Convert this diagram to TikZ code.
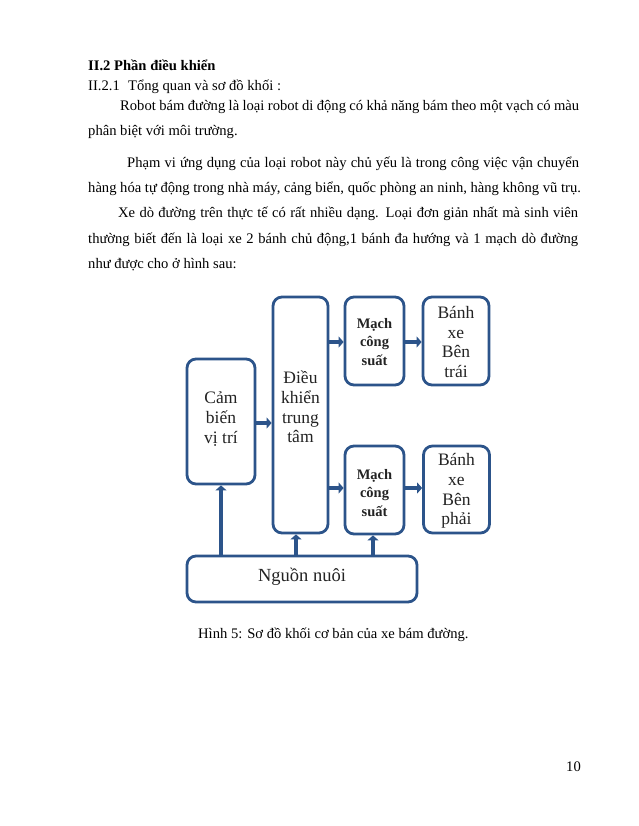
\documentclass[tikz,border=0pt]{standalone}
\usepackage{fontspec}
\setmainfont{Liberation Serif}
\usetikzlibrary{arrows.meta}
\definecolor{boxblue}{RGB}{44,84,138}
\definecolor{txt}{RGB}{35,35,35}
\begin{document}
\begin{tikzpicture}[x=1pt,y=-1pt,
  blk/.style={draw=boxblue, line width=2.8pt, rounded corners=9pt, fill=white, inner sep=0pt},
  lbl/.style={align=center, text=txt, font=\fontsize{17.5}{19.8}\selectfont, inner sep=0pt},
  lblb/.style={align=center, text=txt, font=\fontsize{14.5}{18.5}\selectfont\bfseries, inner sep=0pt},
  arr/.style={draw=boxblue, line width=4.8pt, -{Triangle[length=5pt,width=11pt]}},
  body/.style={anchor=base west, inner sep=0pt, font=\fontsize{14.6}{17}\selectfont},
]
\useasboundingbox[fill=white] (0,0) rectangle (638,826);

% text
\node[body] (h1) at (88,71) {\textbf{II.2 Phần điều khiển}};
\node[body] (h2a) at (88,91) {II.2.1};
\node[body] (h2b) at (128,91) {Tổng quan và sơ đồ khối :};
\node[body] (p1a) at (120,111) {\makebox[459pt][s]{Robot bám đường là loại robot di động có khả năng bám theo một vạch có màu}};
\node[body] (p1b) at (88,136) {phân biệt với môi trường.};
\node[body] (p2a) at (127,168) {\makebox[452pt][s]{Phạm vi ứng dụng của loại robot này chủ yếu là trong công việc vận chuyển}};
\node[body] (p2b) at (88,193) {hàng hóa tự động trong nhà máy, cảng biển, quốc phòng an ninh, hàng không vũ trụ.};
\node[body] (p3a) at (118,218) {\makebox[460pt][s]{Xe dò đường trên thực tế có rất nhiều dạng. Loại đơn giản nhất mà sinh viên}};
\node[body] (p3b) at (88,243) {\makebox[490pt][s]{thường biết đến là loại xe 2 bánh chủ động,1 bánh đa hướng và 1 mạch dò đường}};
\node[body] (p3c) at (88,268) {như được cho ở hình sau:};

% blocks
\node[blk, minimum width=68pt, minimum height=125pt] (cb) at (221,421.5) {};
\node[blk, minimum width=55pt, minimum height=236pt] (dk) at (300.5,415) {};
\node[blk, minimum width=59pt, minimum height=88pt] (mt) at (374.5,341) {};
\node[blk, minimum width=66pt, minimum height=88pt] (bt) at (456,341) {};
\node[blk, minimum width=59pt, minimum height=88pt] (mb) at (374.5,490) {};
\node[blk, minimum width=66pt, minimum height=87pt] (bp) at (456.5,489.5) {};
\node[blk, minimum width=230pt, minimum height=46pt] (nn) at (302,579) {};

% labels
\node[lbl] (cbt) at (221,419) {Cảm\\biến\\vị trí};
\node[lbl] (dkt) at (300.5,407) {Điều\\khiển\\trung\\tâm};
\node[lblb] (mtt) at (374.5,342) {Mạch\\công\\suất};
\node[lbl] (btt) at (456,342) {Bánh\\xe\\Bên\\trái};
\node[lblb] (mbt) at (374.5,493) {Mạch\\công\\suất};
\node[lbl] (bpt) at (456.5,491) {Bánh\\xe\\Bên\\phải};
\node[lbl, font=\fontsize{18.5}{20}\selectfont] (nnt) at (302,577) {Nguồn nuôi};

% connector levels
\coordinate (ya) at (0,423);
\coordinate (yb) at (0,342);
\coordinate (yc) at (0,488);
\coordinate (xa) at (221,0);
\coordinate (xb) at (296,0);
\coordinate (xc) at (373,0);

\draw[arr] (cb.east |- ya) -- (dk.west |- ya);
\draw[arr] (dk.east |- yb) -- (mt.west |- yb);
\draw[arr] (mt.east |- yb) -- (bt.west |- yb);
\draw[arr] (dk.east |- yc) -- (mb.west |- yc);
\draw[arr] (mb.east |- yc) -- (bp.west |- yc);
\draw[arr] (xa |- nn.north) -- (xa |- cb.south);
\draw[arr] (xb |- nn.north) -- (xb |- dk.south);
\draw[arr] (xc |- nn.north) -- (xc |- mb.south);

% caption and page number
\node[body] (cap) at (198,638) {Hình 5: Sơ đồ khối cơ bản của xe bám đường.};
\node[body] (pg) at (566,771) {10};
\end{tikzpicture}
\end{document}
